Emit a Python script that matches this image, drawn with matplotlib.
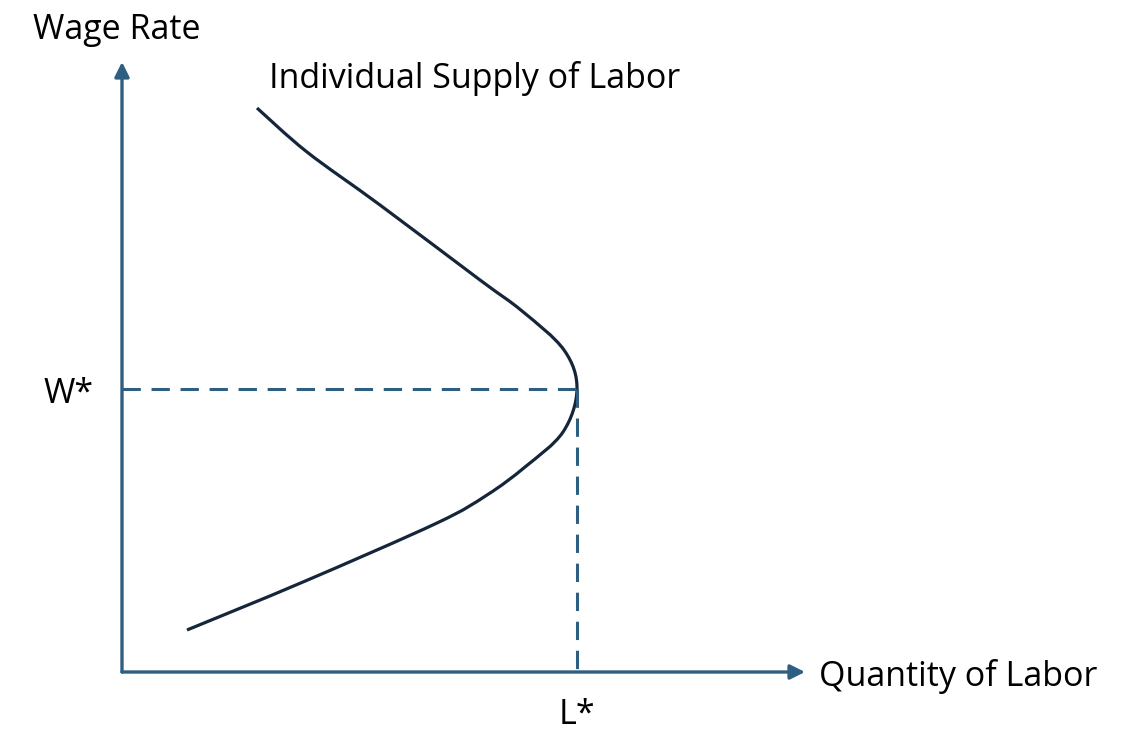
import matplotlib
matplotlib.use("Agg")
import matplotlib.pyplot as plt
from matplotlib.path import Path
from matplotlib.patches import PathPatch

# точки кривой индивидуального предложения труда (снизу вверх)
labor = [65, 181, 315, 365, 403, 441, 455, 442, 400, 358, 258, 185, 135]
wage = [42, 90, 149, 177, 205, 240, 283, 322, 361, 392, 467, 520, 564]

l_star = 455
w_star = 283
x_max = 683
y_max = 610

axis_color = "#2E5F80"
curve_color = "#15263A"


# Гладкая кривая через точки (Catmull-Rom -> кубические Безье)
def smooth_path(xs, ys) -> Path:
    pts = list(zip(xs, ys))
    n = len(pts)
    verts = [pts[0]]
    codes = [Path.MOVETO]
    for i in range(n - 1):
        p0 = pts[max(i - 1, 0)]
        p1 = pts[i]
        p2 = pts[i + 1]
        p3 = pts[min(i + 2, n - 1)]
        c1 = (p1[0] + (p2[0] - p0[0]) / 6, p1[1] + (p2[1] - p0[1]) / 6)
        c2 = (p2[0] - (p3[0] - p1[0]) / 6, p2[1] - (p3[1] - p1[1]) / 6)
        verts += [c1, c2, p2]
        codes += [Path.CURVE4] * 3
    return Path(verts, codes)


def main():
    plt.rcParams['font.family'] = ['Open Sans', 'DejaVu Sans']
    fig = plt.figure(figsize=(11.28, 7.48), dpi=100)
    ax = fig.add_axes([0, 0, 1, 1])
    ax.set_xlim(-122, 1006)
    ax.set_ylim(-76, 672)
    ax.axis("off")

    # оси со стрелками
    arrow = dict(arrowstyle="-|>", color=axis_color, lw=2.4, mutation_scale=22,
                 shrinkA=0, shrinkB=0)
    ax.annotate("", xy=(0, y_max), xytext=(0, 0), arrowprops=arrow)
    ax.annotate("", xy=(x_max, 0), xytext=(0, 0), arrowprops=arrow)

    # пунктирные линии к точке равновесия
    ax.plot([0, l_star], [w_star, w_star], ls=(0, (6, 3.5)), color=axis_color, lw=2.2)
    ax.plot([l_star, l_star], [w_star, 0], ls=(0, (6, 3.5)), color=axis_color, lw=2.2)

    ax.add_patch(PathPatch(smooth_path(labor, wage), facecolor="none",
                           edgecolor=curve_color, lw=2.3, capstyle="butt"))

    fs = 24.5
    ax.text(-89, 642, "Wage Rate", fontsize=fs, va="center", ha="left")
    ax.text(147, 594, "Individual Supply of Labor", fontsize=fs, va="center", ha="left")
    ax.text(-78, 278, "W*", fontsize=fs, va="center", ha="left")
    ax.text(l_star, -43, "L*", fontsize=fs, va="center", ha="center")
    ax.text(697, -4, "Quantity of Labor", fontsize=fs, va="center", ha="left")

    fig.savefig("out.png", dpi=100)


if __name__ == "__main__":
    main()
